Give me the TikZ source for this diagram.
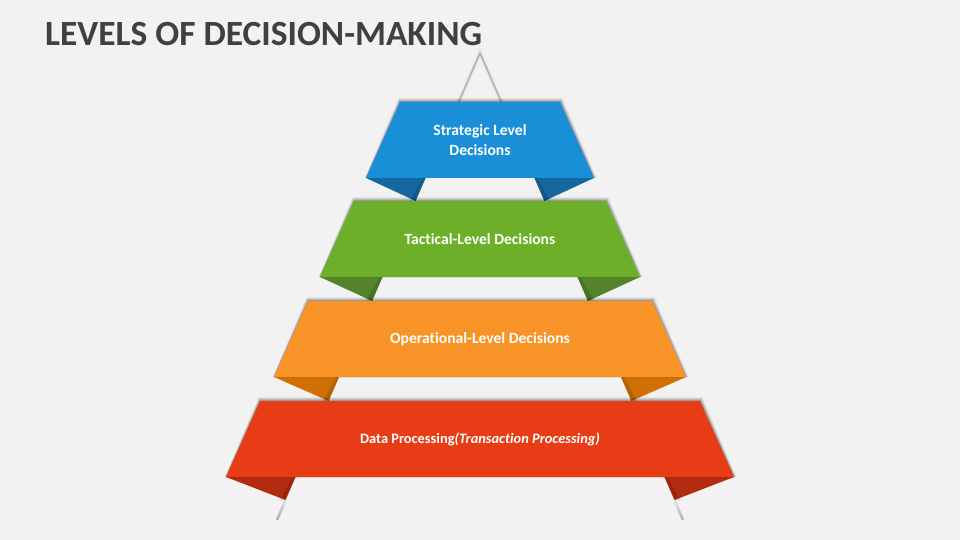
\documentclass[tikz,border=0pt]{standalone}
\usepackage{fontspec}
\setmainfont[Ligatures=NoCommon]{Carlito}
\usetikzlibrary{calc}
\definecolor{bg}{HTML}{F2F2F2}
\definecolor{titlec}{HTML}{404040}
\definecolor{bandA}{HTML}{1A8FD7}
\definecolor{foldA}{HTML}{14689F}
\definecolor{bandB}{HTML}{6DAF29}
\definecolor{foldB}{HTML}{53832A}
\definecolor{bandC}{HTML}{F89427}
\definecolor{foldC}{HTML}{D06F06}
\definecolor{bandD}{HTML}{E83C16}
\definecolor{foldD}{HTML}{B22B10}
\tikzset{
  bandtext/.style={text=white,font=\fontsize{15.6}{19.5}\selectfont\bfseries,align=center,inner sep=0pt},
  smalltext/.style={bandtext,font=\fontsize{14.4}{18}\selectfont\bfseries},
  pyrline/.style={draw=black!32,line width=1.2pt,line cap=round},
  pyrshade/.style={draw=black!12,line width=3.5pt,line cap=round}
}
\begin{document}
\begin{tikzpicture}[x=1pt,y=-1pt]
\useasboundingbox (0,0) rectangle (960,540);
\fill[bg] (0,0) rectangle (960,540);
% title
\node[anchor=base west,inner sep=0pt,text=titlec,font=\fontsize{35.4}{40}\selectfont\bfseries] (title) at (45,46) {LEVELS OF DECISION-MAKING};
% pyramid outline (visible parts)
\coordinate (apex) at (480,53);
\coordinate (tl) at ({480-0.435*49},102);
\coordinate (tr) at ({480+0.435*49},102);
\draw[pyrshade] (tl) -- (apex) -- (tr);
\draw[pyrline] (tl) -- (apex) -- (tr);
\coordinate (bl1) at ({480-0.435*447},500);
\coordinate (bl2) at ({480-0.435*467},520);
\coordinate (br1) at ({480+0.435*447},500);
\coordinate (br2) at ({480+0.435*467},520);
\shade[left color=black!35,right color=bg] ($(bl1)+(-1.5,0)$) -- ($(bl2)+(-1,0)$) -- ($(bl2)+(1.5,0)$) -- ($(bl1)+(2,0)$) -- cycle;
\shade[right color=black!35,left color=bg] ($(br1)+(1.5,0)$) -- ($(br2)+(1,0)$) -- ($(br2)+(-1.5,0)$) -- ($(br1)+(-2,0)$) -- cycle;
% folds
\foreach \T/\a/\N/\fc in {102/80/201/foldA,201/126/301/foldB,301/172/401/foldC,401/220/500/foldD}{
  \pgfmathsetmacro{\B}{\T+76}
  \pgfmathsetmacro{\b}{\a+34}
  \pgfmathsetmacro{\pB}{0.435*(\B-53)}
  \pgfmathsetmacro{\pN}{0.435*(\N-53)}
  \fill[\fc] ({480-\b},\B) -- ({480-\pB},\B) -- ({480-\pN},\N) -- cycle;
  \fill[\fc] ({480+\b},\B) -- ({480+\pB},\B) -- ({480+\pN},\N) -- cycle;
  \fill[black,opacity=0.12] ({480-\pB},\B) -- ({480-\pN},\N) -- ({480-\pN-6},\N) -- ({480-\pB-3},\B) -- cycle;
  \fill[black,opacity=0.12] ({480+\pB},\B) -- ({480+\pN},\N) -- ({480+\pN+6},\N) -- ({480+\pB+3},\B) -- cycle;
}
% bands with shadows
\foreach \T/\a/\bc in {102/80/bandA,201/126/bandB,301/172/bandC,401/220/bandD}{
  \pgfmathsetmacro{\B}{\T+76}
  \pgfmathsetmacro{\b}{\a+34}
  \foreach \s/\o in {4/0.06,3/0.08,2/0.12,1/0.15}{
    \fill[black,opacity=\o] ({480-\a-\s*0.3},{\T-\s}) -- ({480+\a+\s*0.6},{\T-\s}) -- ({480+\b+\s*0.6},\B) -- ({480-\b-\s*0.3},\B) -- cycle;
  }
  \fill[\bc] ({480-\a},\T) -- ({480+\a},\T) -- ({480+\b},\B) -- ({480-\b},\B) -- cycle;
}
% texts
\node[bandtext] (strategic) at (480,140) {Strategic Level\\Decisions};
\node[bandtext] (tactical) at (480,239.5) {Tactical-Level Decisions};
\node[bandtext] (operational) at (480,339) {Operational-Level Decisions};
\node[smalltext] (data) at (480,439) {Data Processing\textit{(Transaction Processing)}};
\end{tikzpicture}
\end{document}
